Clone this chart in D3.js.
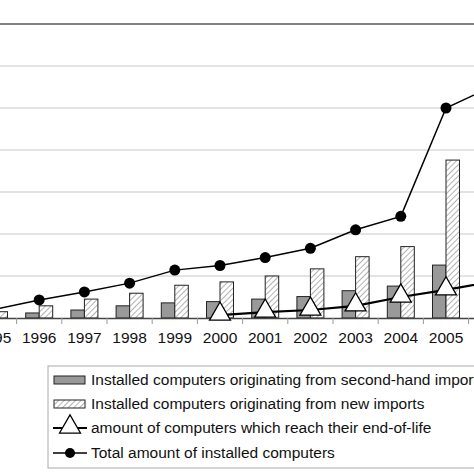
<!DOCTYPE html>
<html><head><meta charset="utf-8">
<script src="https://cdn.jsdelivr.net/npm/d3@7"></script>
<style>body{margin:0;background:#fff}svg{display:block;font-family:"Liberation Sans",Arial,sans-serif}</style>
</head><body><svg width="474" height="474"></svg>
<script>
var years = ["1995","1996","1997","1998","1999","2000","2001","2002","2003","2004","2005","2006"];
var secondHand = [0.05,0.12,0.19,0.29,0.36,0.39,0.45,0.51,0.65,0.76,1.26,null];
var newImports = [0.15,0.29,0.45,0.59,0.78,0.86,1.0,1.17,1.46,1.70,3.76,null];
var endOfLife = [null,null,null,null,null,0.07,0.14,0.19,0.29,0.5,0.67,0.86];
var totalInstalled = [0.2,0.43,0.62,0.83,1.14,1.25,1.44,1.66,2.1,2.42,5.0,5.5];
var gridValues = [1,2,3,4,5,6];
var legendLabels = ["Installed computers originating from second-hand imports",
  "Installed computers originating from new imports",
  "amount of computers which reach their end-of-life",
  "Total amount of installed computers"];

var svg = d3.select("svg");
var defs = svg.append("defs");
var pat = defs.append("pattern").attr("id","hatch").attr("patternUnits","userSpaceOnUse")
  .attr("width",4).attr("height",4).attr("patternTransform","rotate(45)");
pat.append("rect").attr("width",4).attr("height",4).attr("fill","#fff");
pat.append("line").attr("x1",0).attr("y1",0).attr("x2",0).attr("y2",4).attr("stroke","#888").attr("stroke-width",1.3);

var x = d3.scaleBand().domain(years).range([-28.6, 513.8]).padding(0);
var y = d3.scaleLinear().domain([0,7]).range([318,24]);
var bw = 13.5;
var cx = function(d){ return x(d) + x.bandwidth()/2; };

svg.selectAll(".grid").data(gridValues).enter().append("line")
  .attr("x1",0).attr("x2",474).attr("y1",d=>y(d)).attr("y2",d=>y(d))
  .attr("stroke","#c8c8c8").attr("stroke-width",1.2);
svg.append("line").attr("x1",0).attr("x2",474).attr("y1",y(7)).attr("y2",y(7))
  .attr("stroke","#555").attr("stroke-width",1.5);

years.forEach(function(yr,i){
  if (secondHand[i] != null) svg.append("rect").attr("x",cx(yr)-bw).attr("y",y(secondHand[i]))
    .attr("width",bw).attr("height",y(0)-y(secondHand[i])).attr("fill","#999").attr("stroke","#222").attr("stroke-width",1);
  if (newImports[i] != null) svg.append("rect").attr("x",cx(yr)).attr("y",y(newImports[i]))
    .attr("width",bw).attr("height",y(0)-y(newImports[i])).attr("fill","url(#hatch)").attr("stroke","#222").attr("stroke-width",1);
});

var axis = svg.append("g").attr("transform","translate(0,318)")
  .call(d3.axisBottom(x).tickSize(0).tickPadding(14).tickValues(years.slice(0,11)));
axis.select(".domain").attr("stroke","#444").attr("stroke-width",1.3);
axis.selectAll("text").attr("font-size",15.5).attr("fill","#111").attr("font-family","Liberation Sans, Arial, sans-serif");
svg.selectAll(".tk").data(years).enter().append("line")
  .attr("x1",d=>x(d)).attr("x2",d=>x(d)).attr("y1",318).attr("y2",324).attr("stroke","#999");

var line = d3.line().defined(d=>d.v!=null).x(d=>cx(d.yr)).y(d=>y(d.v));
var eol = years.map((yr,i)=>({yr:yr,v:endOfLife[i]}));
var tot = years.map((yr,i)=>({yr:yr,v:totalInstalled[i]}));
svg.append("path").datum(eol).attr("d",line).attr("fill","none").attr("stroke","#000").attr("stroke-width",2.2);
svg.append("path").datum(tot).attr("d",line).attr("fill","none").attr("stroke","#000").attr("stroke-width",1.5);
var tri = d3.symbol().type(d3.symbolTriangle).size(190);
svg.selectAll(".tri").data(eol.filter(d=>d.v!=null)).enter().append("path")
  .attr("d",tri).attr("transform",d=>"translate("+cx(d.yr)+","+(y(d.v)-1)+")")
  .attr("fill","#fff").attr("stroke","#000").attr("stroke-width",1.3);
svg.selectAll(".dot").data(tot).enter().append("circle")
  .attr("cx",d=>cx(d.yr)).attr("cy",d=>y(d.v)).attr("r",5.5).attr("fill","#000");

var lg = svg.append("g");
lg.append("rect").attr("x",48).attr("y",366).attr("width",440).attr("height",102)
  .attr("fill","#fff").attr("stroke","#aaa");
var rows = [380,404,428,453];
lg.append("rect").attr("x",54).attr("y",rows[0]-4).attr("width",31).attr("height",8).attr("fill","#999").attr("stroke","#222");
lg.append("rect").attr("x",54).attr("y",rows[1]-4).attr("width",31).attr("height",8).attr("fill","url(#hatch)").attr("stroke","#222");
lg.append("line").attr("x1",53).attr("x2",87).attr("y1",rows[2]).attr("y2",rows[2]).attr("stroke","#000").attr("stroke-width",2.2);
lg.append("path").attr("d",tri).attr("transform","translate(70,"+(rows[2]-1)+")").attr("fill","#fff").attr("stroke","#000").attr("stroke-width",1.3);
lg.append("line").attr("x1",53).attr("x2",87).attr("y1",rows[3]).attr("y2",rows[3]).attr("stroke","#000").attr("stroke-width",1.5);
lg.append("circle").attr("cx",70).attr("cy",rows[3]).attr("r",5).attr("fill","#000");
lg.selectAll("text").data(legendLabels).enter().append("text")
  .attr("x",91).attr("y",(d,i)=>rows[i]+5).attr("font-size",15.5).attr("fill","#111").text(d=>d);
</script></body></html>
